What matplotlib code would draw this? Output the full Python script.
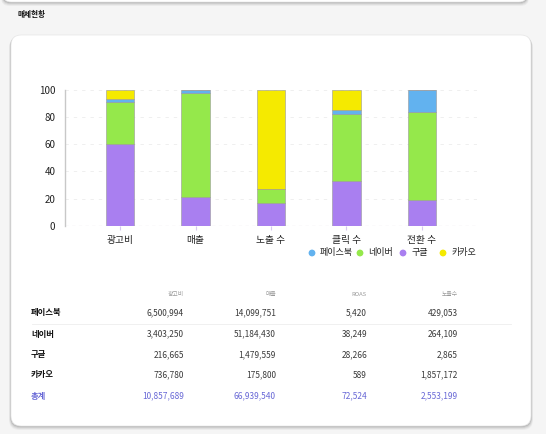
import matplotlib
matplotlib.use("Agg")
import matplotlib.pyplot as plt
from matplotlib.patches import FancyBboxPatch
import numpy as np

plt.rcParams['font.family'] = ['Noto Sans CJK KR', 'DejaVu Sans']

# chart data (percent share, stacked bottom -> top)
categories = ['광고비', '매출', '노출 수', '클릭 수', '전환 수']
google_pct = [59.9, 21.1, 16.8, 33.1, 19.1]
naver_pct = [31.3, 76.5, 10.3, 49.0, 64.5]
facebook_pct = [2.0, 2.2, 0.1, 2.9, 16.4]
kakao_pct = [6.8, 0.2, 72.8, 15.0, 0.0]

# table data
row_names = ['페이스북', '네이버', '구글', '카카오']
col_names = ['광고비', '매출', 'ROAS', '노출수']
ad_cost = [6500994, 3403250, 216665, 736780]
sales = [14099751, 51184430, 1479559, 175800]
roas = [5420, 38249, 28266, 589]
impressions = [429053, 264109, 2865, 1857172]

c_purple = '#a97ff0'
c_green = '#95e84b'
c_blue = '#62b2ef'
c_yellow = '#f5ea00'

W, H = 546, 434
fig = plt.figure(figsize=(W / 100, H / 100), dpi=100, facecolor='#f5f5f5')

# background layer in pixel units
bg = fig.add_axes([0, 0, 1, 1], zorder=0)
bg.set_xlim(0, W)
bg.set_ylim(H, 0)
bg.axis('off')
bg.set_facecolor('none')

def card(x0, y0, x1, y1, r):
    # soft drop shadow, heavier towards the bottom
    for k, a in [(5, 0.03), (4, 0.04), (3, 0.05), (2, 0.07), (1, 0.10)]:
        bg.add_patch(FancyBboxPatch((x0 - k * 0.4, y0 + k * 0.5), x1 - x0 + k * 0.8, y1 - y0 + k * 0.3,
                                    boxstyle="round,pad=0,rounding_size=%d" % r,
                                    fc='black', ec='none', alpha=a))
    bg.add_patch(FancyBboxPatch((x0, y0), x1 - x0, y1 - y0,
                                boxstyle="round,pad=0,rounding_size=%d" % r,
                                fc='white', ec='#e6e6e6', lw=0.5))

card(3, -20, 527, 2, 8)
card(11, 35, 531, 426, 10)

bg.text(17, 14, '매체현황', fontsize=5.5, fontweight='bold', va='center', ha='left', color='#111111')

# stacked bar chart
ax = fig.add_axes([65 / W, 1 - 225.7 / H, 412 / W, 135.7 / H], zorder=1)
x = np.arange(len(categories))
bw = 0.38
bottom = np.zeros(len(categories))
for vals, col in [(google_pct, c_purple), (naver_pct, c_green),
                  (facebook_pct, c_blue), (kakao_pct, c_yellow)]:
    ax.bar(x, vals, bw, bottom=bottom, color=col, edgecolor='#999999', linewidth=0.4, zorder=3)
    bottom += np.array(vals)

ax.set_xlim(-0.73, len(categories) - 0.27)
ax.set_ylim(0, 100)
ax.set_yticks([0, 20, 40, 60, 80, 100])
ax.set_xticks(x)
ax.set_xticklabels(categories)
ax.tick_params(axis='y', length=0, labelsize=7, pad=7, colors='#222222')
ax.tick_params(axis='x', length=3, color='#d8c8f0', labelsize=7, pad=4, labelcolor='#222222')
for s in ['top', 'right', 'bottom']:
    ax.spines[s].set_visible(False)
ax.spines['left'].set_color('#c8c8c8')
ax.spines['left'].set_linewidth(1.0)
for yv in [20, 40, 60, 80, 100]:
    ax.axhline(yv, color='#ececec', lw=0.6, ls=(0, (4, 6)), zorder=1)
ax.axhline(0, color='#b9b0c8', lw=0.8, ls=(0, (3, 3)), zorder=4)

# legend
leg_items = [('페이스북', c_blue, 312), ('네이버', c_green, 360), ('구글', c_purple, 403), ('카카오', c_yellow, 443)]
for name, col, lx in leg_items:
    bg.scatter([lx], [253], s=24, color=col, edgecolors='none', zorder=5)
    bg.text(lx + 8, 253, name, fontsize=6.5, va='center', ha='left', color='#222222')

# table
col_x = [184, 276, 367, 458]
for cx, name in zip(col_x, col_names):
    bg.text(cx, 295, name, fontsize=4.2, color='#9a9a9a', ha='right', va='center')

row_y = [313, 334, 355, 375]
columns = [ad_cost, sales, roas, impressions]
for i, (ry, rn) in enumerate(zip(row_y, row_names)):
    bg.text(31, ry, rn, fontsize=6, fontweight='bold', ha='left', va='center', color='#111111')
    for cx, col in zip(col_x, columns):
        bg.text(cx, ry, format(col[i], ','), fontsize=6, ha='right', va='center', color='#3a3a3a')

bg.plot([32, 511], [324, 324], color='#eeeeee', lw=0.6)

tot_col = '#6868d6'
bg.text(31, 396, '총계', fontsize=6, fontweight='bold', ha='left', va='center', color=tot_col)
for cx, col in zip(col_x, columns):
    bg.text(cx, 396, format(sum(col), ','), fontsize=6, ha='right', va='center', color=tot_col)

fig.savefig('out.png', dpi=100, facecolor=fig.get_facecolor())
